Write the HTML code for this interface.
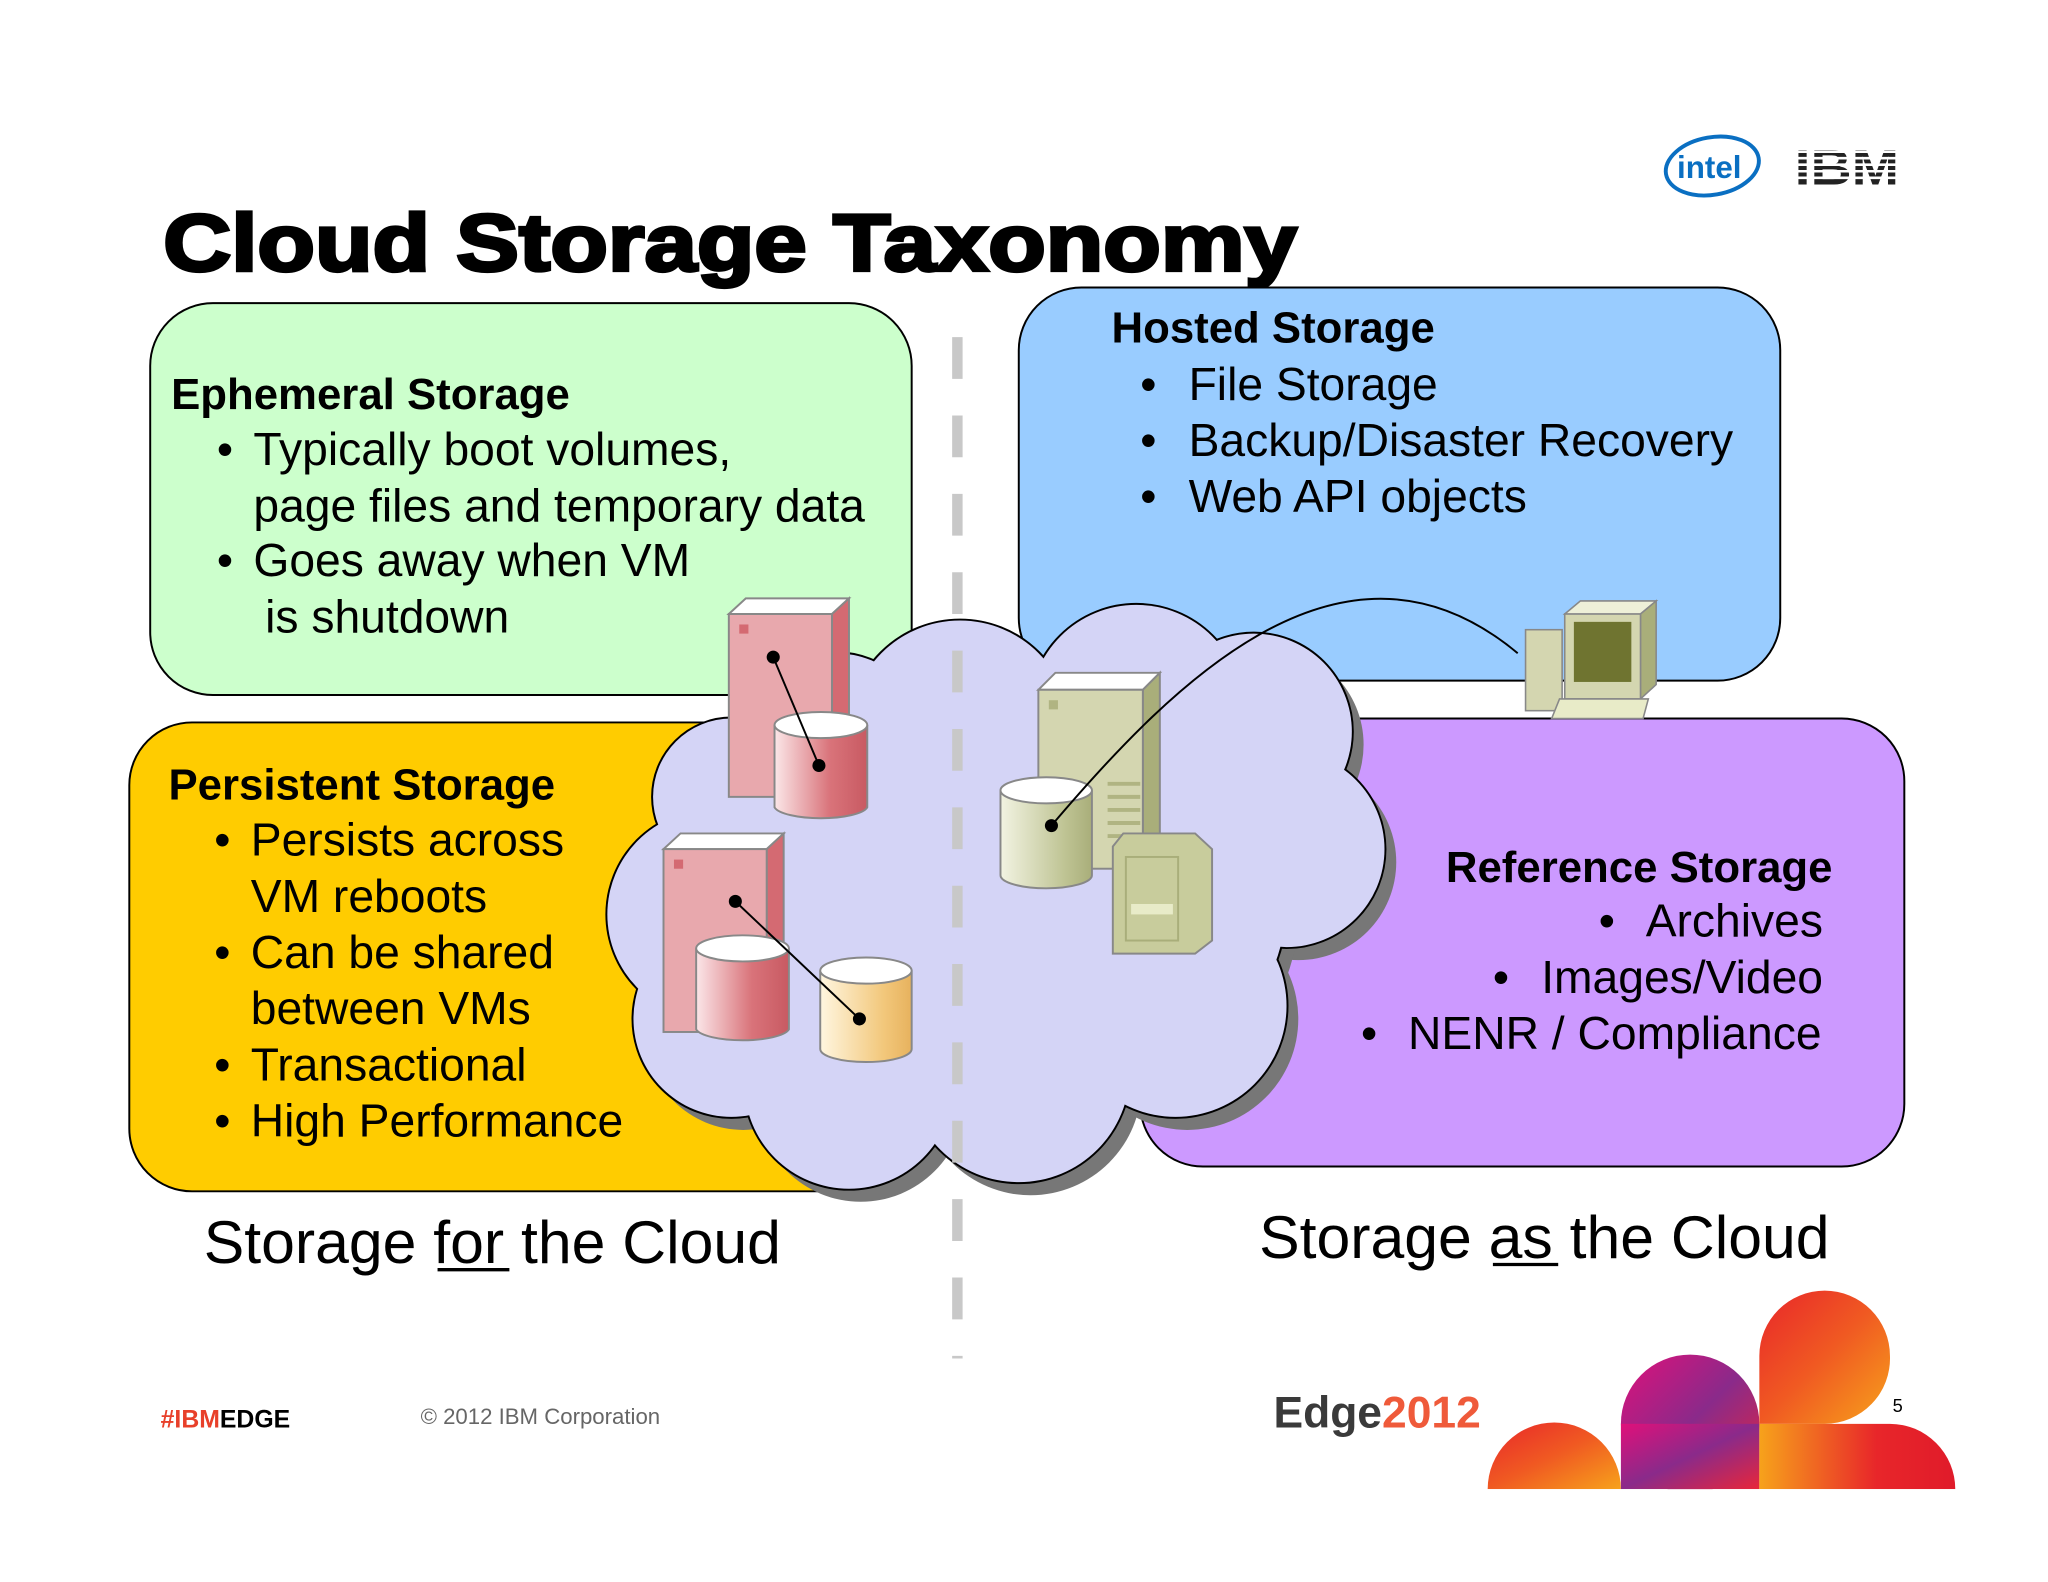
<!DOCTYPE html>
<html><head><meta charset="utf-8"><style>
html,body{margin:0;padding:0;background:#fff;}
svg{display:block;}
text{font-family:"Liberation Sans",Arial,sans-serif;}
</style></head><body>
<svg width="2048" height="1582" viewBox="0 0 1568 1211" xmlns="http://www.w3.org/2000/svg">
<defs>
<linearGradient id="red" x1="0" x2="1"><stop offset="0" stop-color="#fbe6e8"/><stop offset="0.6" stop-color="#d9737a"/><stop offset="1" stop-color="#c85a62"/></linearGradient>
<linearGradient id="yel" x1="0" x2="1"><stop offset="0" stop-color="#fff6e0"/><stop offset="0.7" stop-color="#f2c77a"/><stop offset="1" stop-color="#e7b25e"/></linearGradient>
<linearGradient id="grn" x1="0" x2="1"><stop offset="0" stop-color="#f2f3e2"/><stop offset="0.7" stop-color="#bfc494"/><stop offset="1" stop-color="#a9ae7a"/></linearGradient>
<linearGradient id="fl1" x1="0" y1="0" x2="1" y2="1"><stop offset="0" stop-color="#e8262a"/><stop offset="0.5" stop-color="#f05a22"/><stop offset="1" stop-color="#f7a21b"/></linearGradient>
<linearGradient id="fl2" x1="0" y1="0" x2="1" y2="1"><stop offset="0" stop-color="#e0107a"/><stop offset="0.5" stop-color="#8a2a8a"/><stop offset="1" stop-color="#e8263a"/></linearGradient>
<linearGradient id="fl3" x1="0" y1="0" x2="1" y2="0"><stop offset="0" stop-color="#f7a21b"/><stop offset="0.6" stop-color="#e8262a"/><stop offset="1" stop-color="#e01b2a"/></linearGradient>
<clipPath id="flc"><rect x="1100" y="950" width="450" height="190"/></clipPath>
<g id="cloud">
<circle cx="560" cy="610" r="60"/><circle cx="545" cy="700" r="80"/><circle cx="560" cy="780" r="75"/>
<circle cx="650" cy="830" r="80"/><circle cx="780" cy="820" r="85"/><circle cx="900" cy="770" r="85"/>
<circle cx="985" cy="650" r="75"/><circle cx="960" cy="560" r="75"/><circle cx="870" cy="545" r="82"/>
<circle cx="735" cy="560" r="85"/><circle cx="640" cy="570" r="70"/><ellipse cx="765" cy="690" rx="220" ry="170"/>
</g>
</defs>

<!-- logos -->
<ellipse cx="1311" cy="127" rx="36" ry="22" fill="none" stroke="#0a6fc2" stroke-width="3" transform="rotate(-10 1311 127)"/>
<text x="1284" y="136" font-size="24" fill="#0a6fc2" font-weight="bold">intel</text>
<text x="1374" y="141" font-size="38" font-family="Liberation Serif" font-weight="bold" fill="#222" textLength="80" lengthAdjust="spacingAndGlyphs">IBM</text>
<g stroke="#fff" stroke-width="2"><line x1="1370" y1="116" x2="1460" y2="116"/><line x1="1370" y1="121" x2="1460" y2="121"/><line x1="1370" y1="126" x2="1460" y2="126"/><line x1="1370" y1="131" x2="1460" y2="131"/><line x1="1370" y1="136" x2="1460" y2="136"/></g>

<!-- title -->
<text x="125" y="207" font-size="62" font-weight="bold" fill="#000" stroke="#000" stroke-width="2.5" textLength="868" lengthAdjust="spacingAndGlyphs">Cloud Storage Taxonomy</text>

<!-- boxes -->
<rect x="115" y="232" width="583" height="300" rx="48" fill="#ccffcc" stroke="#000" stroke-width="1.5"/>
<rect x="99" y="553" width="581" height="359" rx="48" fill="#ffcc00" stroke="#000" stroke-width="1.5"/>
<rect x="780" y="220" width="583" height="301" rx="48" fill="#99ccff" stroke="#000" stroke-width="1.5"/>
<rect x="873" y="550" width="585" height="343" rx="48" fill="#cc99ff" stroke="#000" stroke-width="1.5"/>

<!-- cloud -->
<use href="#cloud" fill="#777" transform="translate(9,10)"/>
<use href="#cloud" fill="#d4d4f6" stroke="#000" stroke-width="3"/>
<use href="#cloud" fill="#d4d4f6"/>

<!-- dashed line -->
<line x1="733" y1="258" x2="733" y2="1040" stroke="#c8c8c8" stroke-width="8" stroke-dasharray="32 28"/>

<!-- red server 1 -->
<polygon points="558,470 571,458 650,458 637,470" fill="#fff" stroke="#888" stroke-width="1.5"/>
<polygon points="637,470 650,458 650,598 637,610" fill="#d46a72" stroke="#888" stroke-width="1.5"/>
<rect x="558" y="470" width="79" height="140" fill="#e8a8ad" stroke="#888" stroke-width="1.5"/>
<rect x="566" y="478" width="7" height="7" fill="#d46a72"/>
<path d="M593 555 V618 A36 10 0 0 0 664 618 V555" fill="url(#red)" stroke="#888" stroke-width="1.5"/>
<ellipse cx="628.5" cy="555" rx="35.5" ry="10" fill="#fff" stroke="#888" stroke-width="1.5"/>
<!-- red server 2 -->
<polygon points="508,650 521,638 600,638 587,650" fill="#fff" stroke="#888" stroke-width="1.5"/>
<polygon points="587,650 600,638 600,778 587,790" fill="#d46a72" stroke="#888" stroke-width="1.5"/>
<rect x="508" y="650" width="79" height="140" fill="#e8a8ad" stroke="#888" stroke-width="1.5"/>
<rect x="516" y="658" width="7" height="7" fill="#d46a72"/>
<path d="M533 726 V788 A36 10 0 0 0 604 788 V726" fill="url(#red)" stroke="#888" stroke-width="1.5"/>
<ellipse cx="568.5" cy="726" rx="35.5" ry="10" fill="#fff" stroke="#888" stroke-width="1.5"/>
<path d="M628 743 V803 A35 10 0 0 0 698 803 V743" fill="url(#yel)" stroke="#888" stroke-width="1.5"/>
<ellipse cx="663" cy="743" rx="35" ry="10" fill="#fff" stroke="#888" stroke-width="1.5"/>
<line x1="592" y1="503" x2="627" y2="586" stroke="#000" stroke-width="1.5"/>
<circle cx="592" cy="503" r="5"/><circle cx="627" cy="586" r="5"/>
<line x1="563" y1="690" x2="658" y2="780" stroke="#000" stroke-width="1.5"/>
<circle cx="563" cy="690" r="5"/><circle cx="658" cy="780" r="5"/>

<!-- green server -->
<polygon points="795,528 808,515 888,515 875,528" fill="#fff" stroke="#888" stroke-width="1.5"/>
<polygon points="875,528 888,515 888,652 875,665" fill="#a9ae7a" stroke="#888" stroke-width="1.5"/>
<rect x="795" y="528" width="80" height="137" fill="#d4d6b0" stroke="#888" stroke-width="1.5"/>
<rect x="803" y="536" width="7" height="7" fill="#b0b482"/>
<g stroke="#b0b482" stroke-width="3"><line x1="848" y1="600" x2="873" y2="600"/><line x1="848" y1="610" x2="873" y2="610"/><line x1="848" y1="620" x2="873" y2="620"/><line x1="848" y1="630" x2="873" y2="630"/><line x1="848" y1="640" x2="873" y2="640"/></g>
<path d="M766 605 V670 A35 10 0 0 0 836 670 V605" fill="url(#grn)" stroke="#888" stroke-width="1.5"/>
<ellipse cx="801" cy="605" rx="35" ry="10" fill="#fff" stroke="#888" stroke-width="1.5"/>
<polygon points="852,648 860,638 915,638 928,650 928,720 915,730 852,730" fill="#c8cc9c" stroke="#888" stroke-width="1.5"/>
<rect x="862" y="656" width="40" height="64" fill="none" stroke="#a9ae7a" stroke-width="1.5"/>
<rect x="866" y="692" width="32" height="8" fill="#e8ebc8"/>
<path d="M805 632 C900 520, 1030 390, 1162 500" fill="none" stroke="#000" stroke-width="1.5"/>
<circle cx="805" cy="632" r="5"/>

<!-- computer -->
<rect x="1168" y="482" width="28" height="62" fill="#d4d6b0" stroke="#888" stroke-width="1.2"/>
<polygon points="1198,470 1210,460 1268,460 1256,470" fill="#eef0d8" stroke="#888" stroke-width="1.2"/>
<polygon points="1256,470 1268,460 1268,524 1256,535" fill="#a9ae7a" stroke="#888" stroke-width="1.2"/>
<rect x="1198" y="470" width="58" height="65" fill="#d4d6b0" stroke="#888" stroke-width="1.2"/>
<rect x="1205" y="476" width="44" height="46" fill="#6f7430"/>
<polygon points="1194,535 1262,535 1258,550 1188,550" fill="#e8ebc8" stroke="#888" stroke-width="1.2"/>

<!-- texts -->
<g font-size="35.4" fill="#000">
<text x="851" y="262" font-size="33.5" font-weight="bold">Hosted Storage</text>
<text x="873" y="306">•</text><text x="910" y="306">File Storage</text>
<text x="873" y="349">•</text><text x="910" y="349">Backup/Disaster Recovery</text>
<text x="873" y="392">•</text><text x="910" y="392">Web API objects</text>

<text x="131" y="313" font-size="33.5" font-weight="bold">Ephemeral Storage</text>
<text x="166" y="356">•</text><text x="194" y="356">Typically boot volumes,</text>
<text x="194" y="399">page files and temporary data</text>
<text x="166" y="441">•</text><text x="194" y="441">Goes away when VM</text>
<text x="203" y="484">is shutdown</text>

<text x="129" y="612" font-size="33.5" font-weight="bold">Persistent Storage</text>
<text x="164" y="655">•</text><text x="192" y="655">Persists across</text>
<text x="192" y="698">VM reboots</text>
<text x="164" y="741">•</text><text x="192" y="741">Can be shared</text>
<text x="192" y="784">between VMs</text>
<text x="164" y="827">•</text><text x="192" y="827">Transactional</text>
<text x="164" y="870">•</text><text x="192" y="870">High Performance</text>

<text x="1107" y="675" font-size="33.5" font-weight="bold">Reference Storage</text>
<text x="1224" y="717">•</text><text x="1260" y="717">Archives</text>
<text x="1143" y="760">•</text><text x="1180" y="760">Images/Video</text>
<text x="1042" y="803">•</text><text x="1078" y="803">NENR / Compliance</text>
</g>
<text x="156" y="967" font-size="46.5">Storage for the Cloud</text>
<line x1="335" y1="972" x2="390" y2="972" stroke="#000" stroke-width="2.5"/>
<text x="964" y="963" font-size="46.5">Storage as the Cloud</text>
<line x1="1143" y1="968" x2="1193" y2="968" stroke="#000" stroke-width="2.5"/>

<!-- footer -->
<text x="123" y="1093" font-size="19" font-weight="bold"><tspan fill="#e8402a">#IBM</tspan><tspan fill="#000">EDGE</tspan></text>
<text x="322" y="1090" font-size="17" fill="#666">© 2012 IBM Corporation</text>
<text x="975" y="1093" font-size="34" font-weight="bold"><tspan fill="#3a3a3a">Edge</tspan><tspan fill="#ef5a3a">2012</tspan></text>
<text x="1449" y="1081" font-size="14">5</text>

<!-- flower logo -->
<g clip-path="url(#flc)">
<path d="M1139 1140 A51 51 0 0 1 1241 1140 Z" fill="url(#fl1)"/>
<circle cx="1294" cy="1090" r="53" fill="url(#fl2)"/>
<rect x="1241" y="1090" width="106" height="50" fill="url(#fl2)"/>
<path d="M1347 1090 V1038 A50 50 0 0 1 1447 1038 A50 50 0 0 1 1397 1090 Z" fill="url(#fl1)"/>
<path d="M1347 1090 H1447 A50 50 0 0 1 1497 1140 H1347 Z" fill="url(#fl3)"/>
</g>
</svg>
</body></html>
